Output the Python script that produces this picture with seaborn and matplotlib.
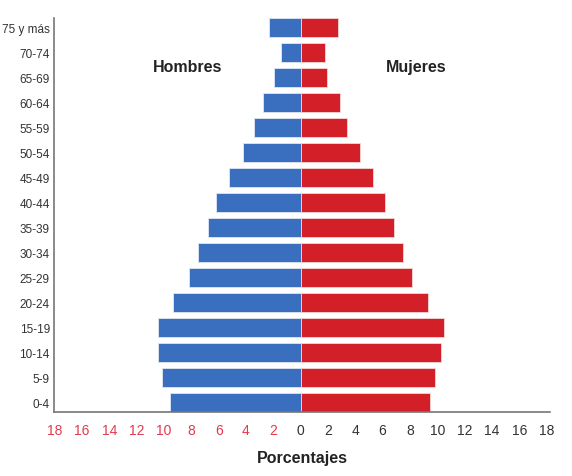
import matplotlib
matplotlib.use("Agg")
import matplotlib.pyplot as plt
import matplotlib.font_manager as fm
import numpy as np
import pandas as pd
import seaborn as sns

# ── Data ────────────────────────────────────────────────────────────────
AGE_GROUPS = ["75 y más", "70-74", "65-69", "60-64", "55-59", "50-54",
              "45-49", "40-44", "35-39", "30-34", "25-29", "20-24",
              "15-19", "10-14", "5-9", "0-4"]
HOMBRES = [2.3, 1.45, 1.95, 2.75, 3.4, 4.25, 5.25, 6.2, 6.75, 7.5,
           8.15, 9.35, 10.45, 10.45, 10.15, 9.55]
MUJERES = [2.75, 1.75, 1.95, 2.85, 3.4, 4.35, 5.3, 6.15, 6.85, 7.5,
           8.15, 9.3, 10.5, 10.25, 9.85, 9.45]
X_TICKS = list(range(-18, 19, 2))

BLUE = "#3A6FC0"
RED = "#D21F28"
TICK_RED = "#E23A4E"
DARK = "#333333"

sns.set_style("white")
installed = {f.name for f in fm.fontManager.ttflist}
narrow = next((n for n in ["Liberation Sans Narrow", "Liberation Sans", "Roboto"]
               if n in installed), "DejaVu Sans")
plt.rcParams["font.family"] = [narrow, "DejaVu Sans"]

df = pd.DataFrame({"edad": AGE_GROUPS,
                   "hombres": [-v for v in HOMBRES],
                   "mujeres": MUJERES})

fig = plt.figure(figsize=(5.72, 4.77), dpi=100)
ax = fig.add_axes([0.0944, 0.1342, 0.8671, 0.826])

sns.barplot(data=df, x="hombres", y="edad", order=AGE_GROUPS, orient="h",
            color=BLUE, saturation=1, width=0.76, ax=ax,
            edgecolor="#dfe6f3", linewidth=0.6)
sns.barplot(data=df, x="mujeres", y="edad", order=AGE_GROUPS, orient="h",
            color=RED, saturation=1, width=0.76, ax=ax,
            edgecolor="#f3d6d8", linewidth=0.6)

ax.set_xlim(-18.05, 18.25)
ax.set_ylim(len(AGE_GROUPS) - 1 + 0.38, -0.38)

ax.set_xticks(X_TICKS)
ax.set_xticklabels([str(abs(t)) for t in X_TICKS], fontsize=10)
for t, lab in zip(X_TICKS, ax.get_xticklabels()):
    lab.set_color(TICK_RED if t < 0 else DARK)
ax.tick_params(axis="y", labelsize=8.5, labelcolor=DARK, length=0, pad=3)
ax.tick_params(axis="x", length=0, pad=8)

ax.set_ylabel("")
ax.set_xlabel("Porcentajes", fontsize=11.5, fontweight="bold", color="#222222",
              labelpad=9)

for side in ["top", "right"]:
    ax.spines[side].set_visible(False)
for side in ["left", "bottom"]:
    ax.spines[side].set_color("#777777")
    ax.spines[side].set_linewidth(1.2)

ax.text(-8.25, 1.56, "Hombres", ha="center", va="center", fontsize=11.5,
        fontweight="bold", color="#222222")
ax.text(8.45, 1.56, "Mujeres", ha="center", va="center", fontsize=11.5,
        fontweight="bold", color="#222222")

fig.savefig("out.png", dpi=100, facecolor="white")
